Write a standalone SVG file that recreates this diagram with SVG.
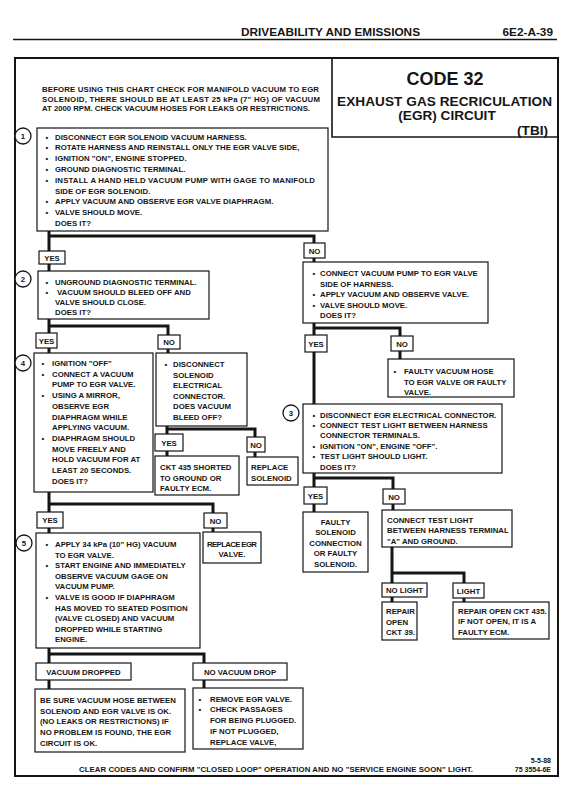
<svg xmlns="http://www.w3.org/2000/svg" width="569" height="800" viewBox="0 0 569 800">
<style>
text{font-family:"Liberation Sans",Arial,sans-serif;font-weight:bold;font-size:7.8px;fill:#151515}
.m{text-anchor:middle}
.e{text-anchor:end}
.f{fill:#fff;stroke:#151515;stroke-width:1.2}
.ci{fill:#fff;stroke:#151515;stroke-width:1.3}
.c{fill:none;stroke:#151515;stroke-width:3;stroke-linejoin:miter}
.h{font-size:11.8px}
</style>
<rect width="569" height="800" fill="#fff"/>
<g id="header">
<text class="h" x="241" y="36" textLength="179">DRIVEABILITY AND EMISSIONS</text>
<text class="h e" x="553" y="36">6E2-A-39</text>
<line x1="13" y1="39.5" x2="557" y2="39.5" stroke="#151515" stroke-width="1.6"/>
</g>
<g id="frame">
<rect x="15" y="58" width="543" height="718" fill="none" stroke="#151515" stroke-width="2"/>
</g>
<g id="title">
<path d="M332,58 V137 H558" fill="none" stroke="#151515" stroke-width="1.6"/>
<text class="m" x="445" y="85" style="font-size:18px">CODE 32</text>
<text class="m" x="444.5" y="106" style="font-size:13.6px" textLength="215">EXHAUST GAS RECRICULATION</text>
<text class="m" x="447" y="120" style="font-size:13.6px">(EGR) CIRCUIT</text>
<text class="e" x="548" y="134.5" style="font-size:13.6px">(TBI)</text>
</g>
<g id="intro">
<text x="42" y="92" textLength="277">BEFORE USING THIS CHART CHECK FOR MANIFOLD VACUUM TO EGR</text>
<text x="42" y="101.5" textLength="278">SOLENOID, THERE SHOULD BE AT LEAST 25 kPa (7" HG) OF VACUUM</text>
<text x="42" y="111" textLength="268">AT 2000 RPM.  CHECK VACUUM HOSES FOR LEAKS OR RESTRICTIONS.</text>
</g>
<g id="connectors">
<path class="c" d="M49,231 V271 M49,236 H314 V262"/>
<path class="c" d="M49,319 V353 M49,326 H168 V353"/>
<path class="c" d="M314,323 V404 M314,328 H400 V359"/>
<path class="c" d="M167,426 V456 M167,429 H255 V457"/>
<path class="c" d="M49,492 V533 M49,504 H213 V532"/>
<path class="c" d="M314,473 V512 M314,478 H393 V510"/>
<path class="c" d="M392,547 V602 M392,573 H464 V602"/>
<path class="c" d="M49,648 V689 M49,654 H204 V688"/>
</g>
<g id="step1">
<rect class="f" x="37" y="128" width="291" height="103"/>
<circle class="ci" cx="23" cy="136" r="8"/><text class="m" x="23" y="139">1</text>
<text y="139.5"><tspan x="45.5">•</tspan><tspan x="55">DISCONNECT EGR SOLENOID VACUUM HARNESS.</tspan></text>
<text y="150.3"><tspan x="45.5">•</tspan><tspan x="55">ROTATE HARNESS AND REINSTALL ONLY THE EGR VALVE SIDE,</tspan></text>
<text y="161.1"><tspan x="45.5">•</tspan><tspan x="55">IGNITION "ON", ENGINE STOPPED.</tspan></text>
<text y="171.9"><tspan x="45.5">•</tspan><tspan x="55">GROUND DIAGNOSTIC TERMINAL.</tspan></text>
<text y="182.7"><tspan x="45.5">•</tspan><tspan x="55" textLength="260">INSTALL A HAND HELD VACUUM PUMP WITH GAGE TO MANIFOLD</tspan></text>
<text x="55" y="193.5">SIDE OF EGR SOLENOID.</text>
<text y="204.3"><tspan x="45.5">•</tspan><tspan x="55">APPLY VACUUM AND OBSERVE EGR VALVE DIAPHRAGM.</tspan></text>
<text y="215.1"><tspan x="45.5">•</tspan><tspan x="55">VALVE SHOULD MOVE.</tspan></text>
<text x="55" y="225.9">DOES IT?</text>
</g>
<g id="yes1"><rect class="f" x="39" y="251" width="26" height="13"/><text class="m" x="52" y="260.8">YES</text></g>
<g id="no1"><rect class="f" x="304" y="243" width="21" height="15"/><text class="m" x="314.5" y="253.5">NO</text></g>
<g id="step2">
<rect class="f" x="38" y="271" width="171" height="48"/>
<circle class="ci" cx="23" cy="279" r="8"/><text class="m" x="23" y="282">2</text>
<text y="285"><tspan x="45.5">•</tspan><tspan x="55">UNGROUND DIAGNOSTIC TERMINAL.</tspan></text>
<text y="295"><tspan x="45.5">•</tspan><tspan x="57">VACUUM SHOULD BLEED OFF AND</tspan></text>
<text x="55" y="305">VALVE SHOULD CLOSE.</text>
<text x="55" y="315">DOES IT?</text>
</g>
<g id="checkValve">
<rect class="f" x="303" y="262" width="185" height="61"/>
<text y="276"><tspan x="312.5">•</tspan><tspan x="320">CONNECT VACUUM PUMP TO EGR VALVE</tspan></text>
<text x="320" y="286.5">SIDE OF HARNESS.</text>
<text y="297"><tspan x="312.5">•</tspan><tspan x="320">APPLY VACUUM AND OBSERVE VALVE.</tspan></text>
<text y="307.5"><tspan x="312.5">•</tspan><tspan x="320">VALVE SHOULD MOVE.</tspan></text>
<text x="320" y="318">DOES IT?</text>
</g>
<g id="yes2"><rect class="f" x="36" y="333" width="21" height="15"/><text class="m" x="46.5" y="343.8">YES</text></g>
<g id="no2"><rect class="f" x="158" y="335" width="22" height="14"/><text class="m" x="169" y="345">NO</text></g>
<g id="yesA"><rect class="f" x="305" y="335" width="22" height="17"/><text class="m" x="316" y="346.5">YES</text></g>
<g id="noA"><rect class="f" x="391" y="336" width="22" height="15"/><text class="m" x="402" y="346.5">NO</text></g>
<g id="faultyHose">
<rect class="f" x="388" y="359" width="126" height="38"/>
<text y="374"><tspan x="393.5">•</tspan><tspan x="404">FAULTY VACUUM HOSE</tspan></text>
<text x="404" y="384.5">TO EGR VALVE OR FAULTY</text>
<text x="404" y="395">VALVE.</text>
</g>
<g id="step4">
<rect class="f" x="34" y="353" width="119" height="139"/>
<circle class="ci" cx="23" cy="363" r="8"/><text class="m" x="23" y="366">4</text>
<text y="366"><tspan x="41.5">•</tspan><tspan x="52">IGNITION "OFF"</tspan></text>
<text y="376.7"><tspan x="41.5">•</tspan><tspan x="52">CONNECT A VACUUM</tspan></text>
<text x="52" y="387.4">PUMP TO EGR VALVE.</text>
<text y="398.1"><tspan x="41.5">•</tspan><tspan x="52">USING A MIRROR,</tspan></text>
<text x="52" y="408.8">OBSERVE EGR</text>
<text x="52" y="419.5">DIAPHRAGM WHILE</text>
<text x="52" y="430.2">APPLYING VACUUM.</text>
<text y="440.9"><tspan x="41.5">•</tspan><tspan x="52">DIAPHRAGM SHOULD</tspan></text>
<text x="52" y="451.6">MOVE FREELY AND</text>
<text x="52" y="462.3">HOLD VACUUM FOR AT</text>
<text x="52" y="473">LEAST 20 SECONDS.</text>
<text x="52" y="483.7">DOES IT?</text>
</g>
<g id="solenoidCheck">
<rect class="f" x="156" y="353" width="91" height="73"/>
<text y="367"><tspan x="164.5">•</tspan><tspan x="173">DISCONNECT</tspan></text>
<text x="173" y="377.6">SOLENOID</text>
<text x="173" y="388.2">ELECTRICAL</text>
<text x="173" y="398.8">CONNECTOR.</text>
<text x="173" y="409.4">DOES VACUUM</text>
<text x="173" y="420">BLEED OFF?</text>
</g>
<g id="yesS"><rect class="f" x="155" y="434" width="28" height="17"/><text class="m" x="169" y="445.5">YES</text></g>
<g id="noS"><rect class="f" x="247" y="437" width="18" height="15"/><text class="m" x="256" y="447.5">NO</text></g>
<g id="ckt435Short">
<rect class="f" x="155" y="456" width="84" height="39"/>
<text x="160" y="470">CKT  435 SHORTED</text>
<text x="160" y="480.5">TO GROUND OR</text>
<text x="160" y="491">FAULTY ECM.</text>
</g>
<g id="replaceSolenoid">
<rect class="f" x="247" y="457" width="51" height="28"/>
<text x="251" y="470">REPLACE</text>
<text x="251" y="480.5">SOLENOID</text>
</g>
<g id="step3">
<rect class="f" x="303" y="404" width="199" height="69"/>
<circle class="ci" cx="291" cy="413" r="8"/><text class="m" x="291" y="416">3</text>
<text y="418"><tspan x="312.5">•</tspan><tspan x="320">DISCONNECT EGR ELECTRICAL CONNECTOR.</tspan></text>
<text y="428"><tspan x="312.5">•</tspan><tspan x="320">CONNECT TEST LIGHT BETWEEN HARNESS</tspan></text>
<text x="320" y="438">CONNECTOR TERMINALS.</text>
<text y="449"><tspan x="312.5">•</tspan><tspan x="320">IGNITION "ON", ENGINE "OFF".</tspan></text>
<text y="459"><tspan x="312.5">•</tspan><tspan x="320">TEST LIGHT SHOULD LIGHT.</tspan></text>
<text x="320" y="469.5">DOES IT?</text>
</g>
<g id="yes3"><rect class="f" x="304" y="487" width="23" height="17"/><text class="m" x="315.5" y="498.5">YES</text></g>
<g id="no3"><rect class="f" x="383" y="489" width="22" height="15"/><text class="m" x="394" y="499.5">NO</text></g>
<g id="faultySolenoid">
<rect class="f" x="303" y="512" width="65" height="60"/>
<text class="m" x="335.5" y="524.5">FAULTY</text>
<text class="m" x="335.5" y="535">SOLENOID</text>
<text class="m" x="335.5" y="545.5">CONNECTION</text>
<text class="m" x="335.5" y="556">OR FAULTY</text>
<text class="m" x="335.5" y="566.5">SOLENOID.</text>
</g>
<g id="testLightA">
<rect class="f" x="382" y="510" width="130" height="37"/>
<text x="387" y="522.5">CONNECT TEST LIGHT</text>
<text x="387" y="533">BETWEEN HARNESS TERMINAL</text>
<text x="387" y="543.5">"A" AND GROUND.</text>
</g>
<g id="noLight"><rect class="f" x="382" y="583" width="45" height="14"/><text class="m" x="404.5" y="593">NO LIGHT</text></g>
<g id="light"><rect class="f" x="453" y="583" width="31" height="15"/><text class="m" x="468.5" y="593.5">LIGHT</text></g>
<g id="repair39">
<rect class="f" x="382" y="602" width="35" height="38"/>
<text x="386" y="614">REPAIR</text>
<text x="386" y="624.5">OPEN</text>
<text x="386" y="635">CKT 39.</text>
</g>
<g id="repair435">
<rect class="f" x="453" y="602" width="96" height="37"/>
<text x="458" y="613.5">REPAIR OPEN CKT 435.</text>
<text x="458" y="624">IF NOT OPEN, IT IS A</text>
<text x="458" y="634.5">FAULTY ECM.</text>
</g>
<g id="yes4"><rect class="f" x="37" y="512" width="26" height="16"/><text class="m" x="50" y="523">YES</text></g>
<g id="no4"><rect class="f" x="204" y="513" width="23" height="15"/><text class="m" x="215.5" y="523.5">NO</text></g>
<g id="replaceEgr">
<rect class="f" x="203" y="532" width="58" height="31"/>
<text class="m" x="232" y="546.5" textLength="50">REPLACE EGR</text>
<text class="m" x="232" y="557">VALVE.</text>
</g>
<g id="step5">
<rect class="f" x="36" y="533" width="164" height="115"/>
<circle class="ci" cx="24" cy="543" r="8"/><text class="m" x="24" y="546">5</text>
<text y="547"><tspan x="45.5">•</tspan><tspan x="55">APPLY 34 kPa (10" HG)  VACUUM</tspan></text>
<text x="55" y="557.6">TO EGR VALVE.</text>
<text y="568.2"><tspan x="45.5">•</tspan><tspan x="55">START ENGINE AND IMMEDIATELY</tspan></text>
<text x="55" y="578.8">OBSERVE VACUUM GAGE ON</text>
<text x="55" y="589.4">VACUUM PUMP.</text>
<text y="600"><tspan x="45.5">•</tspan><tspan x="55">VALVE IS GOOD IF DIAPHRAGM</tspan></text>
<text x="55" y="610.6">HAS MOVED TO SEATED POSITION</text>
<text x="55" y="621.2">(VALVE CLOSED) AND VACUUM</text>
<text x="55" y="631.8">DROPPED WHILE STARTING</text>
<text x="55" y="642.4">ENGINE.</text>
</g>
<g id="vacDropped"><rect class="f" x="36" y="663" width="95" height="17"/><text class="m" x="83.5" y="674.5">VACUUM DROPPED</text></g>
<g id="noVacDrop"><rect class="f" x="193" y="663" width="94" height="17"/><text class="m" x="240" y="674.5">NO  VACUUM DROP</text></g>
<g id="circuitOk">
<rect class="f" x="35" y="689" width="150" height="63"/>
<text x="40" y="703">BE SURE VACUUM HOSE BETWEEN</text>
<text x="40" y="713.7">SOLENOID AND EGR VALVE IS OK.</text>
<text x="40" y="724.4">(NO LEAKS OR RESTRICTIONS)  IF</text>
<text x="40" y="735.1">NO PROBLEM IS FOUND, THE EGR</text>
<text x="40" y="745.8">CIRCUIT IS OK.</text>
</g>
<g id="removeEgr">
<rect class="f" x="193" y="688" width="110" height="61"/>
<text y="701.5"><tspan x="198.5">•</tspan><tspan x="210">REMOVE EGR  VALVE.</tspan></text>
<text y="712.3"><tspan x="198.5">•</tspan><tspan x="210">CHECK PASSAGES</tspan></text>
<text x="210" y="723.1">FOR BEING PLUGGED.</text>
<text x="210" y="733.9">IF NOT PLUGGED,</text>
<text x="210" y="744.7">REPLACE  VALVE,</text>
</g>
<g id="footer">
<text x="79" y="772" textLength="394">CLEAR CODES AND CONFIRM "CLOSED LOOP"  OPERATION AND NO "SERVICE ENGINE SOON" LIGHT.</text>
<text class="e" x="551" y="763" style="font-size:7px">5-5-88</text>
<text class="e" x="551" y="772" style="font-size:7px">75 3554-6E</text>
</g>
</svg>
